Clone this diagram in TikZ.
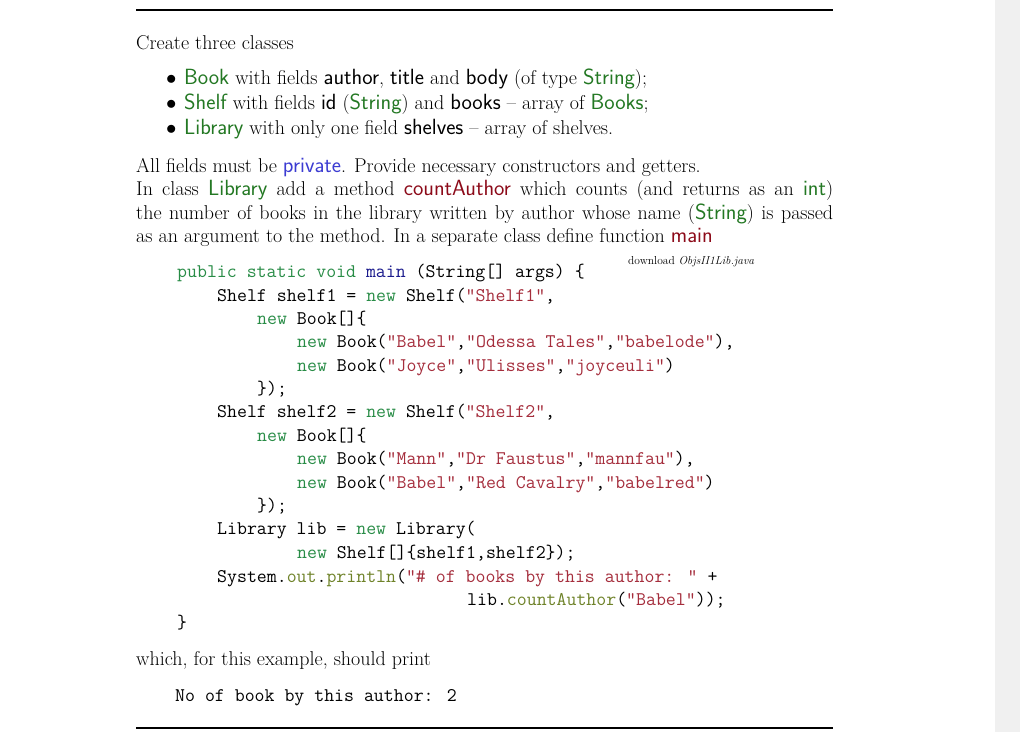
\documentclass[tikz,border=0pt]{standalone}
\usepackage{xcolor}
\definecolor{cgreen}{RGB}{35,120,35}
\definecolor{cblue}{RGB}{60,60,210}
\definecolor{cred}{RGB}{140,10,25}
\definecolor{kgreen}{RGB}{40,140,70}
\definecolor{knavy}{RGB}{25,25,140}
\definecolor{kstr}{RGB}{165,45,60}
\definecolor{kolive}{RGB}{110,130,40}
\newcommand{\jsf}[1]{{\fontsize{22}{24}\selectfont\sffamily #1}}
\newcommand{\jg}[1]{\textcolor{cgreen}{\jsf{#1}}}
\newcommand{\jkw}[1]{\textcolor{kgreen}{#1}}
\newcommand{\jstr}[1]{\textcolor{kstr}{#1}}
\newcommand{\jol}[1]{\textcolor{kolive}{#1}}
\tikzset{
 txt/.style={anchor=base west,inner sep=0pt,font=\fontsize{20}{24}\selectfont},
 code/.style={anchor=base west,inner sep=0pt,font=\fontsize{19.3}{22}\selectfont\ttfamily},
 rule/.style={line width=1.2pt}
}
\begin{document}
\begin{tikzpicture}[x=1pt,y=-1pt]
\fill[white] (0,0) rectangle (1020,732);
\fill[black!6] (995,0) rectangle (1020,732);
\useasboundingbox (0,0) rectangle (1020,732);
\coordinate (t1) at (136,10); \coordinate (t2) at (833,10);
\draw[rule] (t1) -- (t2);
\coordinate (b1) at (136,728); \coordinate (b2) at (833,728);
\draw[rule] (b1) -- (b2);
\node[txt] (l0) at (136,49) {Create three classes};
\node[txt] (bu1) at (166,84) {$\bullet$};
\node[txt] (bu2) at (166,109) {$\bullet$};
\node[txt] (bu3) at (166,134) {$\bullet$};
\node[txt] (l1) at (184,84) {\jg{Book} with fields \jsf{author}, \jsf{title} and \jsf{body} (of type \jg{String});};
\node[txt] (l2) at (184,109) {\jg{Shelf} with fields \jsf{id} (\jg{String}) and \jsf{books} -- array of \jg{Books};};
\node[txt] (l3) at (184,134) {\jg{Library} with only one field \jsf{shelves} -- array of shelves.};
\node[txt] (p1) at (136,172) {All fields must be \textcolor{cblue}{\jsf{private}}. Provide necessary constructors and getters.};
\node[txt] (p2) at (136,195) {\makebox[697pt][s]{In class \jg{Library} add a method \textcolor{cred}{\jsf{countAuthor}} which counts (and returns as an \jg{int})}};
\node[txt] (p3) at (136,219) {\makebox[697pt][s]{the number of books in the library written by author whose name (\jg{String}) is passed}};
\node[txt] (p4) at (136,242) {as an argument to the method. In a separate class define function \textcolor{cred}{\jsf{main}}};
\node[anchor=base west,inner sep=0pt,font=\fontsize{11.5}{13}\selectfont] (dl) at (628,264) {download \textit{ObjsII1Lib.java}};
\node[code] (c1) at (177,277) {\jkw{public static void} \textcolor{knavy}{main} (String[] args) \{};
\node[code] (c2) at (217,301) {Shelf shelf1 = \jkw{new} Shelf(\jstr{"Shelf1"},};
\node[code] (c3) at (257,324) {\jkw{new} Book[]\{};
\node[code] (c4) at (297,347) {\jkw{new} Book(\jstr{"Babel"},\jstr{"Odessa Tales"},\jstr{"babelode"}),};
\node[code] (c5) at (297,371) {\jkw{new} Book(\jstr{"Joyce"},\jstr{"Ulisses"},\jstr{"joyceuli"})};
\node[code] (c6) at (257,394) {\});};
\node[code] (c7) at (217,417) {Shelf shelf2 = \jkw{new} Shelf(\jstr{"Shelf2"},};
\node[code] (c8) at (257,441) {\jkw{new} Book[]\{};
\node[code] (c9) at (297,464) {\jkw{new} Book(\jstr{"Mann"},\jstr{"Dr Faustus"},\jstr{"mannfau"}),};
\node[code] (c10) at (297,488) {\jkw{new} Book(\jstr{"Babel"},\jstr{"Red Cavalry"},\jstr{"babelred"})};
\node[code] (c11) at (257,511) {\});};
\node[code] (c12) at (217,534) {Library lib = \jkw{new} Library(};
\node[code] (c13) at (297,558) {\jkw{new} Shelf[]\{shelf1,shelf2\});};
\node[code] (c14) at (217,582) {System.\jol{out}.\jol{println}(\jstr{"\# of books by this author: "} +};
\node[code] (c15) at (467,605) {lib.\jol{countAuthor}(\jstr{"Babel"}));};
\node[code] (c16) at (177,628) {\}};
\node[txt] (w) at (136,665) {which, for this example, should print};
\node[code] (o) at (175,701) {No of book by this author: 2};
\end{tikzpicture}
\end{document}
